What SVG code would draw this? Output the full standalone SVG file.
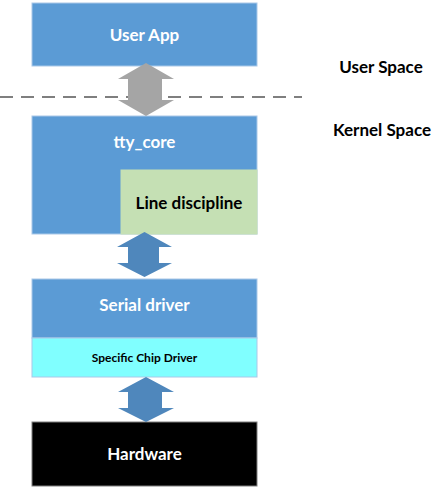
<svg xmlns="http://www.w3.org/2000/svg" width="441" height="494" viewBox="0 0 441 494">
<style>
.box{stroke:#A9C8E8;stroke-width:1}
.t{font-family:Lato,"Liberation Sans",sans-serif;font-weight:bold;text-anchor:middle;dominant-baseline:central}
.w{fill:#FFFFFF;font-size:17px}
.k{fill:#000000}
</style>
<rect width="441" height="494" fill="#FFFFFF"/>
<g id="divider">
<line x1="0" y1="97" x2="302" y2="97" stroke="#7F7F7F" stroke-width="2" stroke-dasharray="13,8"/>
</g>
<g id="user-app">
<rect class="box" x="32" y="3" width="225" height="63" fill="#5B9BD5"/>
<text class="t w" x="144.5" y="34">User App</text>
</g>
<g id="tty-core">
<rect class="box" x="32" y="116" width="225" height="118" fill="#5B9BD5"/>
<text class="t w" x="144.5" y="141">tty_core</text>
</g>
<g id="line-discipline">
<rect x="121" y="170" width="136" height="64" fill="#C5E0B4" stroke="#C5E0B4"/>
<text class="t k" x="189" y="202" font-size="17">Line discipline</text>
</g>
<g id="serial-driver">
<rect class="box" x="32" y="279" width="225" height="59" fill="#5B9BD5"/>
<text class="t w" x="144.5" y="304">Serial driver</text>
</g>
<g id="chip-driver">
<rect class="box" x="32" y="338" width="225" height="39" fill="#80FFFF"/>
<text class="t k" x="144.5" y="357.5" font-size="12">Specific Chip Driver</text>
</g>
<g id="hardware">
<rect x="32" y="422" width="225" height="64" fill="#000000" stroke="#7F7F7F"/>
<text class="t w" x="144.5" y="453">Hardware</text>
</g>
<g id="connectors">
<polygon points="146,63 174,79 162,79 162,100 174,100 146,116 118,100 128,100 128,79 118,79" fill="#A5A5A5"/>
<polygon points="144.5,232 172,247 159,247 159,263 172,263 144.5,277 117,263 128,263 128,247 117,247" fill="#4F87BC"/>
<polygon points="146,377 174,392 162,392 162,408 174,408 146,422 118,408 128,408 128,392 118,392" fill="#4F87BC"/>
</g>
<g id="labels">
<text class="t k" x="381" y="66" font-size="17">User Space</text>
<text class="t k" x="382" y="129" font-size="17">Kernel Space</text>
</g>
</svg>
